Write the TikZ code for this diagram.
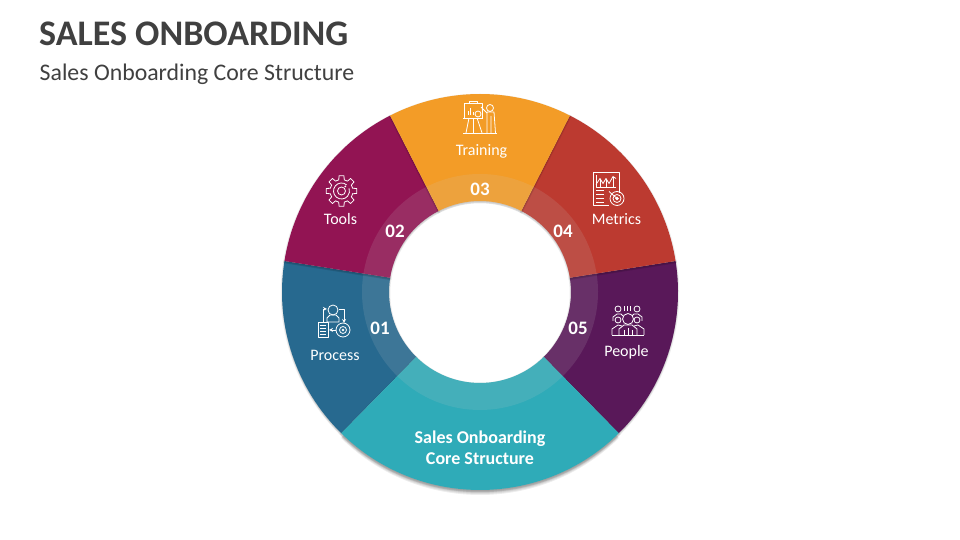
\documentclass[tikz,border=0pt]{standalone}
\usepackage{fontspec}
\setmainfont{Carlito}
\definecolor{inktitle}{HTML}{404040}
\definecolor{cprocess}{HTML}{27698F}
\definecolor{ctools}{HTML}{921453}
\definecolor{ctraining}{HTML}{F39C27}
\definecolor{cmetrics}{HTML}{BC3A30}
\definecolor{cpeople}{HTML}{591859}
\definecolor{csales}{HTML}{2FABB8}
\definecolor{cring}{HTML}{C9C9C9}
\newcommand{\segpath}[2]{(#1:198) arc[start angle=#1,end angle=#2,radius=198] -- (#2:91) arc[start angle=#2,end angle=#1,radius=91] -- cycle}
\newcommand{\ringpath}[2]{(#1:118) arc[start angle=#1,end angle=#2,radius=118] -- (#2:91) arc[start angle=#2,end angle=#1,radius=91] -- cycle}
\begin{document}
\begin{tikzpicture}[x=1pt,y=1pt]
\tikzstyle{every node}=[text=white,inner sep=0pt]
\tikzstyle{seglabel}=[font=\fontsize{16}{16}\selectfont]
\tikzstyle{segnum}=[font=\fontsize{19}{19}\selectfont\bfseries]
\tikzstyle{iconline}=[draw=white,line width=0.8pt,line join=round,fill=none]
\useasboundingbox (0,0) rectangle (960,540);
\fill[white] (0,0) rectangle (960,540);
\node[anchor=west,text=inktitle,font=\fontsize{36}{36}\selectfont\bfseries](title) at (39,506) {SALES ONBOARDING};
\node[anchor=west,text=inktitle,font=\fontsize{23.8}{24}\selectfont](subtitle) at (39.5,466) {Sales Onboarding Core Structure};
\begin{scope}[shift={(480,248)}]
\foreach \segcol/\segs/\sege/\segdrop in {cprocess/171/225.5/2,cpeople/314.5/369/2,ctools/117/171/2,cmetrics/9/63/2,ctraining/63/117/2,csales/225.5/314.5/5}{
  \foreach \segd in {1,...,\segdrop}{
    \fill[black,opacity=0.07,yshift=-\segd pt] \segpath{\segs}{\sege};
  }
  \draw[black,opacity=0.08,line width=2.5pt,yshift=-1pt] \segpath{\segs}{\sege};
  \fill[\segcol] \segpath{\segs}{\sege};
  \fill[cring,opacity=0.14] \ringpath{\segs}{\sege};
}
\end{scope}
\node[seglabel](lblprocess) at (335,185) {Process};
\node[seglabel](lbltools) at (340.5,320.5) {Tools};
\node[seglabel](lbltraining) at (481.5,389) {Training};
\node[seglabel](lblmetrics) at (616.5,320.5) {Metrics};
\node[seglabel](lblpeople) at (626.5,188) {People};
\node[segnum](num01) at (380,212) {01};
\node[segnum](num02) at (395,309) {02};
\node[segnum](num03) at (480,351) {03};
\node[segnum](num04) at (563,309) {04};
\node[segnum](num05) at (578,212) {05};
\node[align=center,font=\fontsize{18}{21}\selectfont\bfseries](lblsales) at (480,92.5) {Sales Onboarding\\Core Structure};
\begin{scope}[shift={(341.5,349)}]
\draw[iconline] (-13:11.5) \foreach \a in {0,45,...,315}{ -- (\a-14:11.5) -- (\a-9:15.5) -- (\a+9:15.5) -- (\a+14:11.5)} -- cycle;
\draw[iconline] (50:8) arc[start angle=50,end angle=380,radius=8];
\draw[iconline] (0,0) circle (4);
\draw[white,fill=white] (50:6) circle (0.7);
\end{scope}
\begin{scope}[shift={(480,422)}]
\draw[iconline] (-16,15) rectangle (2,0);
\draw[iconline] (-11,15) -- (-11,17) -- (-3,17) -- (-3,15);
\draw[iconline] (-17,0) -- (3,0);
\draw[iconline] (-11,0) -- (-14,-15);
\draw[iconline] (-3,0) -- (2,-15);
\draw[iconline] (-7,0) -- (-7,-15);
\draw[iconline] (-12,3) -- (-12,7) (-9.5,3) -- (-9.5,10) (-7,3) -- (-7,6);
\draw[iconline] (-2,4) circle (3);
\draw[iconline] (10,10) circle (3.5);
\draw[iconline] (7,6) -- (14,6) -- (15.5,-15) (7,6) -- (7,-15) (11,-15) -- (11,2);
\draw[iconline] (7,5) -- (1,11);
\draw[iconline] (-17,-15) -- (17,-15);
\end{scope}
\begin{scope}[shift={(606,351.5)}]
\draw[iconline] (-13,16.5) -- (13,16.5) -- (13,-5) (-13,16.5) -- (-13,-16.5) -- (3,-16.5);
\draw[iconline] (-10,13) -- (-10,1) -- (10,1);
\draw[iconline] (-10,4) -- (-6,10) -- (-3,5) -- (0,10) -- (3,5) -- (7,12) -- (10,10);
\draw[iconline] (-6,1) -- (-6,9) (0,1) -- (0,9) (7,1) -- (7,11);
\draw[iconline] (-10,-2) -- (-2,-2) (-10,-6) -- (-2,-6) (-10,-10) -- (-2,-10) (-10,-14) -- (-2,-14);
\draw[iconline] (11,-10) circle (7);
\draw[iconline] (11,-10) circle (4);
\draw[white,fill=white] (11,-10) circle (1.5);
\draw[iconline] (11,-10) -- (3,-3);
\end{scope}
\begin{scope}[shift={(330,217)}]
\draw[iconline] (3,13) circle (5);
\draw[iconline] (-3,1) -- (-3,5) -- (0,8) -- (6,8) -- (9,5) -- (9,1) -- cycle;
\draw[iconline] (-12,-14) rectangle (-2,1);
\draw[iconline] (-10,-2) -- (-4,-2) (-10,-5) -- (-4,-5) (-10,-8) -- (-4,-8) (-10,-11) -- (-4,-11);
\draw[iconline] (13,-7) circle (7);
\draw[iconline] (13,-7) circle (3.5);
\draw[white,fill=white] (13,-7) circle (1.2);
\draw[iconline,-stealth] (-7,1) -- (-7,14) -- (-3,14);
\draw[iconline,-stealth] (9,14) -- (14,14) -- (14,0);
\draw[iconline,-stealth] (6,-7) -- (-1,-7);
\end{scope}
\begin{scope}[shift={(628,220)}]
\draw[iconline] (-10,11) circle (3);
\draw[iconline] (9,11) circle (3);
\draw[iconline] (-15,-1) -- (-15,3) -- (-11,6) -- (-7,6) -- (-5,4);
\draw[iconline] (14,-1) -- (14,3) -- (10,6) -- (6,6) -- (4,4);
\draw[iconline] (-4,9) -- (-4,14) (-1,9) -- (-1,14) (2,9) -- (2,14);
\draw[iconline] (0,1) circle (5.5);
\draw[iconline] (-10,0) circle (3);
\draw[iconline] (9,0) circle (3);
\draw[iconline] (-16,-15) -- (-16,-9) -- (-10,-5) -- (-6,-6);
\draw[iconline] (16,-15) -- (16,-9) -- (10,-5) -- (6,-6);
\draw[iconline] (-16,-15) -- (16,-15);
\draw[iconline] (-9,-15) -- (-9,-9) -- (-4,-5) -- (4,-5) -- (9,-9) -- (9,-15);
\draw[iconline] (-4,-15) -- (-4,-10) (4,-15) -- (4,-10) (0,-15) -- (0,-8);
\end{scope}
\end{tikzpicture}
\end{document}
